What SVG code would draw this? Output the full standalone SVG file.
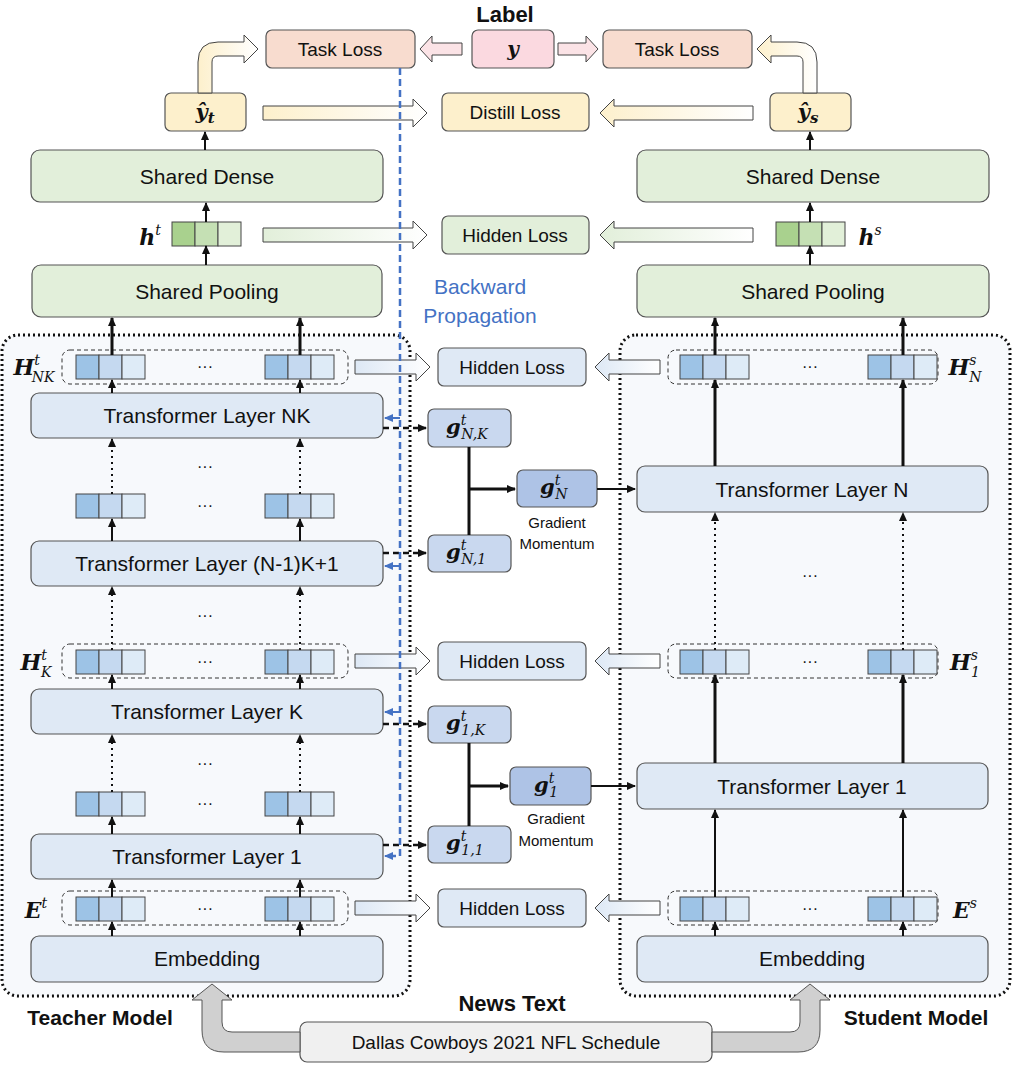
<svg xmlns="http://www.w3.org/2000/svg" xmlns:xlink="http://www.w3.org/1999/xlink" width="1013" height="1070" viewBox="0 0 1013 1070">
<style>
text{font-family:"Liberation Sans",Arial,sans-serif;fill:#111}
.t{font-size:21px;text-anchor:middle}
.s{font-size:19px;text-anchor:middle}
.b{font-weight:bold}
.m{font-family:"DejaVu Serif","Liberation Serif",serif;font-weight:bold;font-style:italic;fill:#111}
.sub{font-weight:normal}
.blue{fill:#dfe9f5;stroke:#555;stroke-width:1.2}
.green{fill:#e2efda;stroke:#555;stroke-width:1.2}
.gbox{fill:#c9d8ef;stroke:#555;stroke-width:1.2}
.dash{fill:none;stroke:#333;stroke-width:1;stroke-dasharray:4,3}
.ar{stroke:#111;stroke-width:2;fill:none;marker-end:url(#ah)}
.ard{stroke:#111;stroke-width:2;fill:none;stroke-dasharray:2,4;marker-end:url(#ah)}
.thick{stroke:#111;stroke-width:3;fill:none;marker-end:url(#ah)}
.bd{stroke:#111;stroke-width:2.5;fill:none;stroke-dasharray:6,4;marker-end:url(#ah)}
.bp{stroke:#4472c4;stroke-width:2.5;fill:none;stroke-dasharray:7,4}
.ba{stroke:#4472c4;stroke-width:2;fill:none;marker-end:url(#bh)}
.hb{fill:url(#gb);stroke:#444;stroke-width:1}
.hg{fill:url(#gg);stroke:#444;stroke-width:1}
.hy{fill:url(#gy);stroke:#444;stroke-width:1}
.hgr{fill:#d0d0d0;stroke:#555;stroke-width:1}
.hdots{font-size:16px;text-anchor:middle}
</style>
<defs>
<marker id="ah" markerWidth="10" markerHeight="10" refX="8" refY="5" orient="auto" markerUnits="userSpaceOnUse"><path d="M0,1 L9,5 L0,9 Z" fill="#111"/></marker>
<marker id="bh" markerWidth="10" markerHeight="10" refX="8" refY="5" orient="auto" markerUnits="userSpaceOnUse"><path d="M0,1 L9,5 L0,9 Z" fill="#4472c4"/></marker>
<linearGradient id="gb" x1="0" x2="1"><stop offset="0" stop-color="#dde8f5"/><stop offset="1" stop-color="#ffffff"/></linearGradient>
<linearGradient id="gg" x1="0" x2="1"><stop offset="0" stop-color="#e2efda"/><stop offset="1" stop-color="#ffffff"/></linearGradient>
<linearGradient id="gy" x1="0" x2="1"><stop offset="0" stop-color="#fdf0cc"/><stop offset="1" stop-color="#ffffff"/></linearGradient>
<g id="cb"><rect x="0" y="0" width="23" height="24" fill="#9dc3e6" stroke="#444"/><rect x="23" y="0" width="23" height="24" fill="#c5d9f0" stroke="#444"/><rect x="46" y="0" width="23" height="24" fill="#deebf7" stroke="#444"/></g>
<g id="cg"><rect x="0" y="0" width="23" height="24" fill="#a9d18e" stroke="#444"/><rect x="23" y="0" width="23" height="24" fill="#c5e0b4" stroke="#444"/><rect x="46" y="0" width="23" height="24" fill="#e2f0d9" stroke="#444"/></g>
</defs>
<rect width="1013" height="1070" fill="#fff"/>

<rect x="2" y="335" width="408" height="661" rx="16" fill="#f7f9fc" stroke="#111" stroke-width="3" stroke-dasharray="2,3"/>
<rect x="620" y="335" width="390" height="661" rx="16" fill="#f7f9fc" stroke="#111" stroke-width="3" stroke-dasharray="2,3"/>

<text x="505" y="22" class="t b" style="font-size:22px">Label</text>
<g id="taskloss-t"><rect x="266" y="30" width="149" height="38" rx="6" fill="#f8dccf" stroke="#555" stroke-width="1.2"/><text x="340" y="56" class="s">Task Loss</text></g>
<g id="label-y"><rect x="472" y="30" width="82" height="38" rx="6" fill="#fbd9e0" stroke="#555" stroke-width="1.2"/><text x="513" y="56" class="m" text-anchor="middle" font-size="20">y</text></g>
<g id="taskloss-s"><rect x="603" y="30" width="149" height="38" rx="6" fill="#f8dccf" stroke="#555" stroke-width="1.2"/><text x="677" y="56" class="s">Task Loss</text></g>
<g id="yt"><rect x="165" y="93" width="81" height="38" rx="6" fill="#fdf0cc" stroke="#555" stroke-width="1.2"/><text x="205" y="119" class="m" text-anchor="middle" font-size="21">ŷ<tspan font-size="15" dy="4">t</tspan></text></g>
<g id="ys"><rect x="770" y="93" width="81" height="38" rx="6" fill="#fdf0cc" stroke="#555" stroke-width="1.2"/><text x="808" y="119" class="m" text-anchor="middle" font-size="21">ŷ<tspan font-size="15" dy="4">s</tspan></text></g>
<g id="distill"><rect x="442" y="93" width="147" height="38" rx="6" fill="#fdf0cc" stroke="#555" stroke-width="1.2"/><text x="515" y="119" class="s">Distill Loss</text></g>
<g id="dense-t"><rect x="31" y="150" width="352" height="52" rx="9" class="green"/><text x="207" y="184" class="t">Shared Dense</text></g>
<g id="dense-s"><rect x="637" y="150" width="352" height="52" rx="9" class="green"/><text x="813" y="184" class="t">Shared Dense</text></g>
<g id="ht"><text x="150" y="245" class="m" font-size="22" text-anchor="middle">h<tspan class="sub" font-size="14" dy="-10">t</tspan></text><use href="#cg" x="172" y="222"/></g>
<g id="hs"><use href="#cg" x="776" y="222"/><text x="870" y="245" class="m" font-size="22" text-anchor="middle">h<tspan class="sub" font-size="14" dy="-10">s</tspan></text></g>
<g id="hloss0"><rect x="442" y="216" width="147" height="38" rx="6" class="green"/><text x="515" y="242" class="s">Hidden Loss</text></g>
<g id="pool-t"><rect x="32" y="265" width="350" height="52" rx="9" class="green"/><text x="207" y="299" class="t">Shared Pooling</text></g>
<g id="pool-s"><rect x="637" y="265" width="352" height="52" rx="9" class="green"/><text x="813" y="299" class="t">Shared Pooling</text></g>
<text x="480" y="294" class="t" style="fill:#4472c4">Backward</text>
<text x="480" y="323" class="t" style="fill:#4472c4">Propagation</text>

<g id="HNK"><rect x="62" y="350" width="286" height="34" rx="8" class="dash"/><use href="#cb" x="76" y="355"/><use href="#cb" x="265" y="355"/><text x="205" y="372" class="hdots">···</text>
<text x="34" y="375" class="m" font-size="22" text-anchor="middle">H<tspan class="sub" font-size="14" dy="-10">t</tspan><tspan class="sub" font-size="14" dx="-8" dy="17">NK</tspan></text></g>
<g id="tlNK"><rect x="31" y="393" width="352" height="45" rx="8" class="blue"/><text x="207" y="423" class="t">Transformer Layer NK</text></g>
<text x="205" y="472" class="hdots">···</text>
<g id="r2"><use href="#cb" x="76" y="494"/><use href="#cb" x="265" y="494"/><text x="205" y="511" class="hdots">···</text></g>
<g id="tlN1K"><rect x="31" y="541" width="352" height="45" rx="8" class="blue"/><text x="207" y="571" class="t">Transformer Layer (N-1)K+1</text></g>
<text x="205" y="621" class="hdots">···</text>
<g id="HK"><rect x="62" y="644" width="286" height="34" rx="8" class="dash"/><use href="#cb" x="76" y="650"/><use href="#cb" x="265" y="650"/><text x="205" y="667" class="hdots">···</text>
<text x="36" y="670" class="m" font-size="22" text-anchor="middle">H<tspan class="sub" font-size="14" dy="-10">t</tspan><tspan class="sub" font-size="14" dx="-6" dy="17">K</tspan></text></g>
<g id="tlK"><rect x="31" y="689" width="352" height="45" rx="8" class="blue"/><text x="207" y="719" class="t">Transformer Layer K</text></g>
<text x="205" y="769" class="hdots">···</text>
<g id="r4"><use href="#cb" x="76" y="792"/><use href="#cb" x="265" y="792"/><text x="205" y="809" class="hdots">···</text></g>
<g id="tl1"><rect x="31" y="834" width="352" height="45" rx="8" class="blue"/><text x="207" y="864" class="t">Transformer Layer 1</text></g>
<g id="Et"><rect x="62" y="891" width="286" height="34" rx="8" class="dash"/><use href="#cb" x="76" y="897"/><use href="#cb" x="265" y="897"/><text x="205" y="914" class="hdots">···</text>
<text x="36" y="918" class="m" font-size="22" text-anchor="middle">E<tspan class="sub" font-size="14" dy="-10">t</tspan></text></g>
<g id="emb-t"><rect x="31" y="936" width="352" height="46" rx="8" class="blue"/><text x="207" y="966" class="t">Embedding</text></g>

<g id="HN"><rect x="668" y="350" width="270" height="34" rx="8" class="dash"/><use href="#cb" x="680" y="355"/><use href="#cb" x="868" y="355"/><text x="810" y="372" class="hdots">···</text>
<text x="965" y="375" class="m" font-size="22" text-anchor="middle">H<tspan class="sub" font-size="14" dy="-10">s</tspan><tspan class="sub" font-size="14" dx="-7" dy="17">N</tspan></text></g>
<g id="tlN"><rect x="637" y="466" width="351" height="46" rx="8" class="blue"/><text x="812" y="497" class="t">Transformer Layer N</text></g>
<text x="810" y="581" class="hdots">···</text>
<g id="H1"><rect x="668" y="644" width="270" height="34" rx="8" class="dash"/><use href="#cb" x="680" y="650"/><use href="#cb" x="868" y="650"/><text x="810" y="667" class="hdots">···</text>
<text x="965" y="670" class="m" font-size="22" text-anchor="middle">H<tspan class="sub" font-size="14" dy="-10">s</tspan><tspan class="sub" font-size="14" dx="-7" dy="17">1</tspan></text></g>
<g id="tl1s"><rect x="637" y="763" width="351" height="46" rx="8" class="blue"/><text x="812" y="794" class="t">Transformer Layer 1</text></g>
<g id="Es"><rect x="668" y="891" width="270" height="34" rx="8" class="dash"/><use href="#cb" x="680" y="897"/><use href="#cb" x="868" y="897"/><text x="810" y="914" class="hdots">···</text>
<text x="965" y="918" class="m" font-size="22" text-anchor="middle">E<tspan class="sub" font-size="14" dy="-10">s</tspan></text></g>
<g id="emb-s"><rect x="637" y="936" width="351" height="46" rx="8" class="blue"/><text x="812" y="966" class="t">Embedding</text></g>

<g id="hloss1"><rect x="438" y="348" width="148" height="38" rx="6" class="blue"/><text x="512" y="374" class="s">Hidden Loss</text></g>
<g id="hloss2"><rect x="438" y="642" width="148" height="38" rx="6" class="blue"/><text x="512" y="668" class="s">Hidden Loss</text></g>
<g id="hloss3"><rect x="438" y="889" width="148" height="38" rx="6" class="blue"/><text x="512" y="915" class="s">Hidden Loss</text></g>
<g id="gNK"><rect x="428" y="409" width="83" height="38" rx="6" class="gbox"/><text x="446" y="434" class="m" font-size="21">g<tspan class="sub" font-size="14" dy="-9">t</tspan><tspan class="sub" font-size="14" dx="-5" dy="14">N,K</tspan></text></g>
<g id="gN1"><rect x="428" y="535" width="83" height="37" rx="6" class="gbox"/><text x="446" y="559" class="m" font-size="21">g<tspan class="sub" font-size="14" dy="-9">t</tspan><tspan class="sub" font-size="14" dx="-5" dy="14">N,1</tspan></text></g>
<g id="gN"><rect x="517" y="470" width="80" height="37" rx="6" fill="#aec3e6" stroke="#555" stroke-width="1.2"/><text x="540" y="494" class="m" font-size="21">g<tspan class="sub" font-size="14" dy="-9">t</tspan><tspan class="sub" font-size="14" dx="-5" dy="14">N</tspan></text></g>
<text x="557" y="528" class="s" style="font-size:15px">Gradient</text>
<text x="557" y="549" class="s" style="font-size:15px">Momentum</text>
<g id="g1K"><rect x="428" y="706" width="83" height="37" rx="6" class="gbox"/><text x="446" y="730" class="m" font-size="21">g<tspan class="sub" font-size="14" dy="-9">t</tspan><tspan class="sub" font-size="14" dx="-5" dy="14">1,K</tspan></text></g>
<g id="g11"><rect x="428" y="826" width="83" height="37" rx="6" class="gbox"/><text x="446" y="850" class="m" font-size="21">g<tspan class="sub" font-size="14" dy="-9">t</tspan><tspan class="sub" font-size="14" dx="-5" dy="14">1,1</tspan></text></g>
<g id="g1"><rect x="510" y="767" width="81" height="38" rx="6" fill="#aec3e6" stroke="#555" stroke-width="1.2"/><text x="534" y="792" class="m" font-size="21">g<tspan class="sub" font-size="14" dy="-9">t</tspan><tspan class="sub" font-size="14" dx="-5" dy="14">1</tspan></text></g>
<text x="556" y="824" class="s" style="font-size:15px">Gradient</text>
<text x="556" y="846" class="s" style="font-size:15px">Momentum</text>

<g id="news"><text x="512" y="1011" class="t b" style="font-size:22px">News Text</text>
<rect x="300" y="1022" width="412" height="40" rx="7" fill="#f0f0f0" stroke="#555" stroke-width="1.2"/><text x="506" y="1049" class="s">Dallas Cowboys 2021 NFL Schedule</text></g>
<text x="100" y="1025" class="t b">Teacher Model</text>
<text x="916" y="1025" class="t b">Student Model</text>

<g id="connectors">
<polygon class="hy" points="263,106 413,106 413,99 427,113 413,127 413,120 263,120"/>
<polygon class="hy" points="753,106 614,106 614,99 600,113 614,127 614,120 753,120"/>
<polygon fill="#fbe3e6" stroke="#444" points="462,43 432,43 432,36 420,49 432,62 432,55 462,55"/>
<polygon fill="#fbe3e6" stroke="#444" points="558,43 586,43 586,36 598,49 586,62 586,55 558,55"/>
<polygon class="hg" points="263,228 413,228 413,221 427,235 413,249 413,242 263,242"/>
<polygon class="hg" points="753,228 614,228 614,221 600,235 614,249 614,242 753,242"/>
<polygon class="hb" points="355,360 416,360 416,353 430,367 416,381 416,374 355,374"/>
<polygon class="hb" points="660,360 609,360 609,353 595,367 609,381 609,374 660,374"/>
<polygon class="hb" points="355,654 416,654 416,647 430,661 416,675 416,668 355,668"/>
<polygon class="hb" points="660,654 609,654 609,647 595,661 609,675 609,668 660,668"/>
<polygon class="hb" points="355,901 416,901 416,894 430,908 416,922 416,915 355,915"/>
<polygon class="hb" points="660,901 609,901 609,894 595,908 609,922 609,915 660,915"/>
<path class="hy" d="M198,93 V62 Q198,42 218,42 H244 V35 L258,49 L244,63 V56 H218 Q212,56 212,62 V93 Z"/>
<path class="hy" d="M817,93 V62 Q817,42 797,42 H771 V35 L757,49 L771,63 V56 H797 Q803,56 803,62 V93 Z"/>
<path class="hgr" d="M300,1032 H232 Q222,1032 222,1022 V1000 H232 L212,984 L192,1000 H202 V1030 Q202,1052 224,1052 H300 Z"/>
<path class="hgr" d="M712,1032 H790 Q800,1032 800,1022 V1000 H790 L810,984 L830,1000 H820 V1030 Q820,1052 798,1052 H712 Z"/>
<path class="ar" d="M205,150 V132"/>
<path class="ar" d="M206,222 V203"/>
<path class="ar" d="M206,265 V246"/>
<path class="thick" d="M112,355 V318"/><path class="thick" d="M300,355 V318"/>
<path class="ar" d="M112,393 V380"/><path class="ar" d="M300,393 V380"/>
<path class="ard" d="M112,494 V439"/><path class="ard" d="M300,494 V439"/>
<path class="ar" d="M112,541 V519"/><path class="ar" d="M300,541 V519"/>
<path class="ard" d="M112,650 V587"/><path class="ard" d="M300,650 V587"/>
<path class="ar" d="M112,689 V675"/><path class="ar" d="M300,689 V675"/>
<path class="ard" d="M112,792 V735"/><path class="ard" d="M300,792 V735"/>
<path class="ar" d="M112,834 V817"/><path class="ar" d="M300,834 V817"/>
<path class="ar" d="M112,897 V880"/><path class="ar" d="M300,897 V880"/>
<path class="ar" d="M112,936 V922"/><path class="ar" d="M300,936 V922"/>
<path class="ar" d="M810,150 V132"/>
<path class="ar" d="M810,222 V203"/>
<path class="ar" d="M810,265 V246"/>
<path class="thick" d="M715,355 V318"/><path class="thick" d="M903,355 V318"/>
<path class="thick" d="M715,466 V380"/><path class="thick" d="M903,466 V380"/>
<path class="ard" d="M715,650 V513"/><path class="ard" d="M903,650 V513"/>
<path class="thick" d="M715,763 V675"/><path class="thick" d="M903,763 V675"/>
<path class="ar" d="M715,897 V810"/><path class="ar" d="M903,897 V810"/>
<path class="ar" d="M715,936 V922"/><path class="ar" d="M903,936 V922"/>
<path class="bd" d="M383,428 H426"/>
<path class="bd" d="M383,553 H426"/>
<path class="bd" d="M383,724 H426"/>
<path class="bd" d="M383,845 H426"/>
<path d="M469,447 V535" stroke="#111" stroke-width="3"/>
<path class="thick" d="M469,489 H515"/>
<path class="ar" d="M597,489 H635"/>
<path d="M469,743 V826" stroke="#111" stroke-width="3"/>
<path class="thick" d="M469,786 H508"/>
<path class="ar" d="M591,786 H635"/>
<path class="bp" d="M400,68 V856 H388"/>
<path class="ba" d="M400,418 H385"/>
<path class="ba" d="M400,566 H385"/>
<path class="ba" d="M400,712 H385"/>
<path class="ba" d="M392,856 H385"/>
</g>
</svg>
